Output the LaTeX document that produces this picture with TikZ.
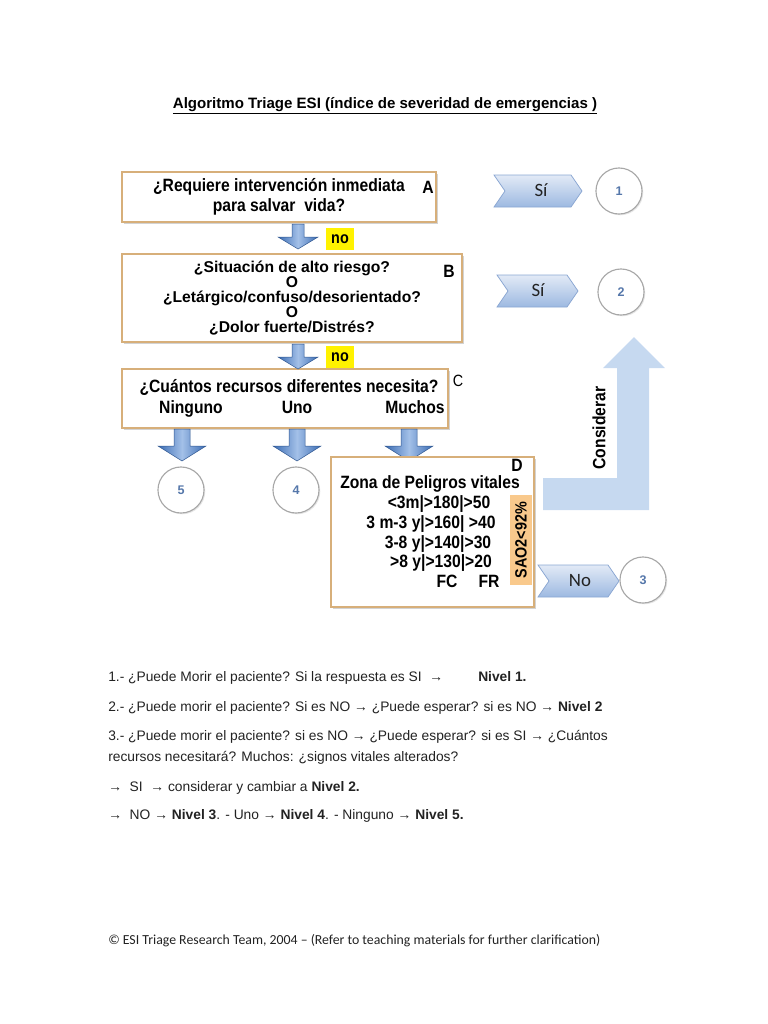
\documentclass[tikz,border=0pt]{standalone}
\usepackage{fontspec}
\setmainfont{Liberation Sans}
\newfontfamily\calibri{Carlito}
\newfontfamily\narrowsans[FakeStretch=0.88]{Liberation Sans}
\usetikzlibrary{fit,shadows}

\definecolor{boxline}{HTML}{D7AF7A}
\definecolor{arrowdark}{HTML}{3C6DB4}
\definecolor{arrowlight}{HTML}{A3C0E8}
\definecolor{chevtop}{HTML}{E2EAF6}
\definecolor{chevbot}{HTML}{9DB9E1}
\definecolor{chevedge}{HTML}{8AA6D2}
\definecolor{lblue}{HTML}{C6D9F0}
\definecolor{saofill}{HTML}{F9C98C}
\definecolor{circgray}{HTML}{A8A8A8}
\definecolor{numblue}{HTML}{5577AA}
\definecolor{textgray}{HTML}{222222}

% x, top, length, head half width, shaft half width, head length
\newcommand{\bluedown}[6]{%
  \shadedraw[bluearrow] ({#1-#5},#2) -- ({#1+#5},#2) -- ({#1+#5},{#2+#3-#6})
    -- ({#1+#4},{#2+#3-#6}) -- (#1,{#2+#3}) -- ({#1-#4},{#2+#3-#6})
    -- ({#1-#5},{#2+#3-#6}) -- cycle;}

\begin{document}
\begin{tikzpicture}[x=0.797pt,y=-0.797pt,
  qbox/.style={draw=boxline,line width=1pt,fill=white,inner sep=0pt,
    drop shadow={shadow xshift=1.5pt,shadow yshift=-1.5pt,opacity=0.35}},
  qtext/.style={align=center,font=\narrowsans\fontsize{14.2}{16}\selectfont\bfseries},
  btext/.style={anchor=base,font=\fontsize{12.5}{12}\selectfont\bfseries},
  letter/.style={font=\narrowsans\fontsize{14.2}{14}\selectfont\bfseries},
  bluearrow/.style={left color=arrowdark,right color=arrowdark,middle color=arrowlight,
    draw=arrowdark!80!black,line width=0.4pt},
  chev/.style={top color=chevtop,bottom color=chevbot,draw=chevedge,line width=0.6pt},
  chevtext/.style={font=\calibri\fontsize{15}{15}\selectfont,text=textgray},
  lvl/.style={circle,draw=circgray,line width=0.9pt,fill=white,minimum size=36.7pt,
    font=\fontsize{10}{10}\selectfont\bfseries,text=numblue,
    drop shadow={shadow xshift=1pt,shadow yshift=-1pt,opacity=0.2}},
  nolabel/.style={fill=yellow,minimum width=22.3pt,minimum height=17.5pt,
    font=\narrowsans\fontsize{13}{12}\selectfont\bfseries},
  body/.style={anchor=base west,font=\fontsize{11}{13}\selectfont,text=textgray}]
\tikzstyle{every node}+=[inner sep=0pt]
\useasboundingbox (0,0) rectangle (768,1024);

% title
\node[anchor=base,font=\fontsize{12}{14}\selectfont\bfseries] (title) at (385,108)
  {\underline{Algoritmo Triage ESI (índice de severidad de emergencias )}};

% question boxes
\node[qbox,fit={(122,172) (436,222)}] (A) {};
\node[qtext] (textA) at (279,197) {¿Requiere intervención inmediata\\para salvar\ \ vida?};
\node[letter] (labA) at (428,187) {A};

\node[qbox,fit={(122,254) (462,342)}] (B) {};
\node[btext] (b1) at (292,272) {¿Situación de alto riesgo?};
\node[btext] (b2) at (292,287) {O};
\node[btext] (b3) at (292,302) {¿Letárgico/confuso/desorientado?};
\node[btext] (b4) at (292,317) {O};
\node[btext] (b5) at (292,332) {¿Dolor fuerte/Distrés?};
\node[letter] (labB) at (449,271) {B};

\node[qbox,fit={(122,369) (448,428)}] (C) {};
\node[qtext,anchor=base] (textC) at (289,392) {¿Cuántos recursos diferentes necesita?};
\node[qtext,anchor=base] (ninguno) at (191,413) {Ninguno};
\node[qtext,anchor=base] (uno) at (297,413) {Uno};
\node[qtext,anchor=base] (muchos) at (415,413) {Muchos};
\node[font=\narrowsans\fontsize{13}{14}\selectfont] (labC) at (458,381) {C};

% down arrows
\bluedown{298}{224}{25}{20}{6}{12}
\node[nolabel] (no1) at (340,239) {no};
\bluedown{298}{344}{25}{20}{6}{12}
\node[nolabel] (no2) at (340,357) {no};
\bluedown{182}{429}{32}{24}{8}{15}
\bluedown{297}{429}{32}{24}{8}{15}
\bluedown{409}{429}{32}{24}{8}{15}

% levels 5 and 4
\node[lvl] (n5) at (181,490) {5};
\node[lvl] (n4) at (296,490) {4};

% vital signs box
\node[qbox,fit={(331,457) (534,607)}] (D) {};
\node[letter] (labD) at (517,465) {D};
\node[qtext] (zona) at (430,484) {Zona de Peligros vitales};
\node[qtext,anchor=base] (r1) at (439,508) {<3m|>180|>50};
\node[qtext,anchor=base] (r2) at (431,528) {3 m-3 y|>160| >40};
\node[qtext,anchor=base] (r3) at (438,548) {3-8 y|>140|>30};
\node[qtext,anchor=base] (r4) at (441,567) {>8 y|>130|>20};
\node[qtext,anchor=base] (fc) at (447,587) {FC};
\node[qtext,anchor=base] (fr) at (489,587) {FR};
\node[fill=saofill,minimum width=18.3pt,minimum height=72.5pt] (sao) at (521,540) {};
\node[rotate=90,font=\narrowsans\fontsize{13}{12}\selectfont\bfseries] (saotext) at (sao.center) {SAO2<92\%};

% consider arrow
\fill[lblue] (543,478) -- (617,478) -- (617,368) -- (603,368) -- (634,337)
  -- (665,368) -- (649,368) -- (649,510) -- (543,510) -- cycle;
\node[rotate=90,font=\narrowsans\fontsize{14.2}{14}\selectfont\bfseries] (considerar) at (599,428) {Considerar};

% yes / no chevrons
\shadedraw[chev] (494,175) -- (571,175) -- (582,191) -- (571,207) -- (494,207) -- (505,191) -- cycle;
\node[chevtext] (si1) at (541,190) {Sí};
\node[lvl] (n1) at (619,191) {1};

\shadedraw[chev] (497,275) -- (567,275) -- (578,291) -- (567,307) -- (497,307) -- (508,291) -- cycle;
\node[chevtext] (si2) at (538,290) {Sí};
\node[lvl] (n2) at (621,292) {2};

\shadedraw[chev] (538,565) -- (608,565) -- (619,581) -- (608,597) -- (538,597) -- (549,581) -- cycle;
\node[chevtext] (no3) at (580,581) {No};
\node[lvl] (n3) at (643,580) {3};

% explanation
\node[body] (l1) at (108,681) {1.- ¿Puede Morir el paciente? Si la respuesta es SI\ \ →};
\node[body] (l1b) at (478,681) {\textbf{Nivel 1.}};
\node[body] (l2) at (108,711) {2.- ¿Puede morir el paciente? Si es NO → ¿Puede esperar? si es NO → \textbf{Nivel 2}};
\node[body] (l3) at (108,740) {3.- ¿Puede morir el paciente? si es NO → ¿Puede esperar? si es SI → ¿Cuántos};
\node[body] (l4) at (108,761) {recursos necesitará? Muchos: ¿signos vitales alterados?};
\node[body] (l5) at (108,791) {→\ \ SI\ \ → considerar y cambiar a \textbf{Nivel 2.}};
\node[body] (l6) at (108,819) {→\ \ NO → \textbf{Nivel 3}. - Uno → \textbf{Nivel 4}. - Ninguno → \textbf{Nivel 5.}};

% footer
\node[body,font=\calibri\fontsize{11}{13}\selectfont] (foot) at (108,944)
  {© ESI Triage Research Team, 2004 – (Refer to teaching materials for further clarification)};
\end{tikzpicture}
\end{document}
